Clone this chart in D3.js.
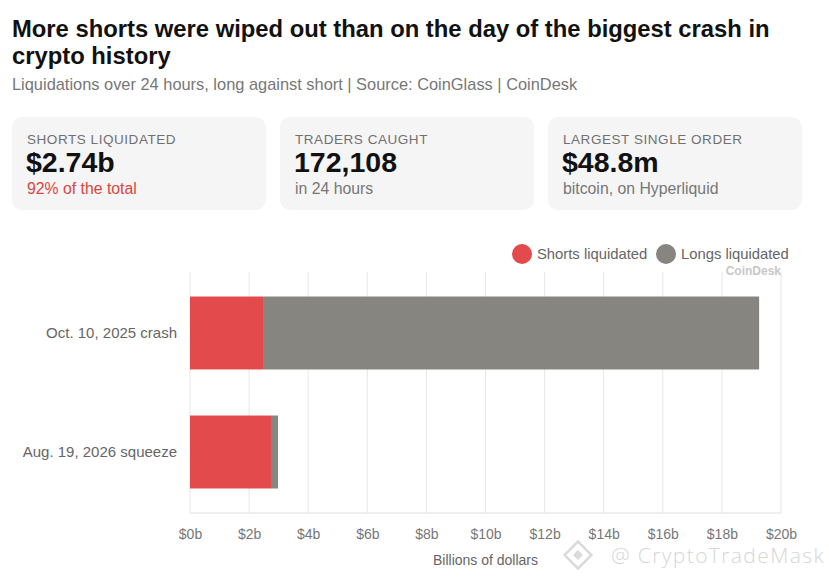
<!DOCTYPE html>
<html>
<head>
<meta charset="utf-8">
<script src="https://cdn.jsdelivr.net/npm/d3@7"></script>
<style>
  html, body { margin: 0; padding: 0; background: #fff; }
  svg { display: block; font-family: "Liberation Sans", Arial, sans-serif; }
</style>
</head>
<body>
<svg id="chart" width="829" height="582"></svg>
<script>
const categories = ["Oct. 10, 2025 crash", "Aug. 19, 2026 squeeze"];
const shorts = [2.5, 2.74];
const longs = [16.76, 0.24];
const seriesNames = ["Shorts liquidated", "Longs liquidated"];
const tickValues = [0, 2, 4, 6, 8, 10, 12, 14, 16, 18, 20];

const cards = [
  { label: "SHORTS LIQUIDATED", value: "$2.74b", note: "92% of the total", noteColor: "#d9463f" },
  { label: "TRADERS CAUGHT", value: "172,108", note: "in 24 hours", noteColor: "#777" },
  { label: "LARGEST SINGLE ORDER", value: "$48.8m", note: "bitcoin, on Hyperliquid", noteColor: "#777" },
];

const red = "#e34a4b";
const grey = "#878580";

const svg = d3.select("#chart");

// header
svg.append("text")
  .attr("x", 12).attr("y", 37)
  .attr("font-size", 23.8).attr("font-weight", 700).attr("fill", "#111")
  .text("More shorts were wiped out than on the day of the biggest crash in");
svg.append("text")
  .attr("x", 12).attr("y", 64)
  .attr("font-size", 23.8).attr("font-weight", 700).attr("fill", "#111")
  .text("crypto history");
svg.append("text")
  .attr("x", 12).attr("y", 90)
  .attr("font-size", 16.4).attr("fill", "#777")
  .text("Liquidations over 24 hours, long against short | Source: CoinGlass | CoinDesk");

// stat cards
const cardX = [12, 280, 548];
const card = svg.selectAll("g.card")
  .data(cards)
  .enter()
  .append("g")
  .attr("class", "card")
  .attr("transform", (d, i) => `translate(${cardX[i]}, 117)`);

card.append("rect")
  .attr("width", 254).attr("height", 93)
  .attr("rx", 10)
  .attr("fill", "#f5f5f5");
card.append("text")
  .attr("x", 15).attr("y", 27)
  .attr("font-size", 13.5).attr("letter-spacing", 0.55).attr("fill", "#707070")
  .text((d) => d.label);
card.append("text")
  .attr("x", 14).attr("y", 55)
  .attr("font-size", 28.5).attr("font-weight", 700).attr("fill", "#111")
  .text((d) => d.value);
card.append("text")
  .attr("x", 15).attr("y", 77)
  .attr("font-size", 15.8)
  .attr("fill", (d) => d.noteColor)
  .text((d) => d.note);

// chart
const x = d3.scaleLinear().domain([0, 20]).range([190, 781]);
const y = d3.scaleBand()
  .domain(categories)
  .range([272, 513])
  .paddingInner(0.387)
  .paddingOuter(0.206);

svg.append("g")
  .selectAll("line")
  .data(tickValues)
  .enter()
  .append("line")
  .attr("x1", (d) => x(d)).attr("x2", (d) => x(d))
  .attr("y1", 272).attr("y2", 513)
  .attr("stroke", "#e6e6e6").attr("stroke-width", 1);

svg.append("line")
  .attr("x1", x(0)).attr("x2", x(20))
  .attr("y1", 513).attr("y2", 513)
  .attr("stroke", "#e0e0e0");

const rows = categories.map((c, i) => ({ cat: c, shorts: shorts[i], longs: longs[i] }));

const row = svg.append("g")
  .selectAll("g")
  .data(rows)
  .enter()
  .append("g");

row.append("rect")
  .attr("x", x(0))
  .attr("y", (d) => y(d.cat))
  .attr("width", (d) => x(d.shorts) - x(0))
  .attr("height", y.bandwidth())
  .attr("fill", red);

row.append("rect")
  .attr("x", (d) => x(d.shorts))
  .attr("y", (d) => y(d.cat))
  .attr("width", (d) => x(d.shorts + d.longs) - x(d.shorts))
  .attr("height", y.bandwidth())
  .attr("fill", grey);

const yAxis = svg.append("g")
  .attr("transform", `translate(${x(0)}, 0)`)
  .call(d3.axisLeft(y).tickSize(0).tickPadding(13));
yAxis.select(".domain").remove();
yAxis.selectAll("text")
  .attr("font-family", "Liberation Sans, Arial, sans-serif")
  .attr("font-size", 15)
  .attr("fill", "#666");

const xAxis = svg.append("g")
  .attr("transform", "translate(0, 513)")
  .call(d3.axisBottom(x).tickValues(tickValues).tickSize(0).tickPadding(16).tickFormat((d) => `$${d}b`));
xAxis.select(".domain").remove();
xAxis.selectAll("text")
  .attr("font-family", "Liberation Sans, Arial, sans-serif")
  .attr("font-size", 14)
  .attr("fill", "#777");

svg.append("text")
  .attr("x", (x(0) + x(20)) / 2).attr("y", 565)
  .attr("text-anchor", "middle")
  .attr("font-size", 14).attr("fill", "#666")
  .text("Billions of dollars");

// legend
const legendX = [522, 666];
const legend = svg.selectAll("g.legend")
  .data(seriesNames)
  .enter()
  .append("g")
  .attr("class", "legend")
  .attr("transform", (d, i) => `translate(${legendX[i]}, 254)`);
legend.append("circle")
  .attr("r", 10)
  .attr("fill", (d, i) => (i === 0 ? red : grey));
legend.append("text")
  .attr("x", 15).attr("dy", "0.35em")
  .attr("font-size", 14.8).attr("fill", "#666")
  .text((d) => d);

svg.append("text")
  .attr("x", 781).attr("y", 275)
  .attr("text-anchor", "end")
  .attr("font-size", 12).attr("font-weight", 700).attr("fill", "#c8c8c8")
  .text("CoinDesk");

// watermark
const mark = svg.append("g").attr("transform", "translate(578, 555)");
mark.append("rect")
  .attr("x", -9.5).attr("y", -9.5).attr("width", 19).attr("height", 19)
  .attr("transform", "rotate(45)")
  .attr("fill", "none").attr("stroke", "#dadada").attr("stroke-width", 2.5);
mark.append("rect")
  .attr("x", -3.5).attr("y", -3.5).attr("width", 7).attr("height", 7)
  .attr("transform", "rotate(45)")
  .attr("fill", "#dadada");
svg.append("text")
  .attr("x", 825).attr("y", 563)
  .attr("text-anchor", "end")
  .attr("font-size", 21).attr("font-weight", 300).attr("letter-spacing", 1.4)
  .attr("fill", "#d6d6d6")
  .attr("font-family", "Open Sans, Lato, sans-serif")
  .text("@ CryptoTradeMask");
</script>
</body>
</html>
